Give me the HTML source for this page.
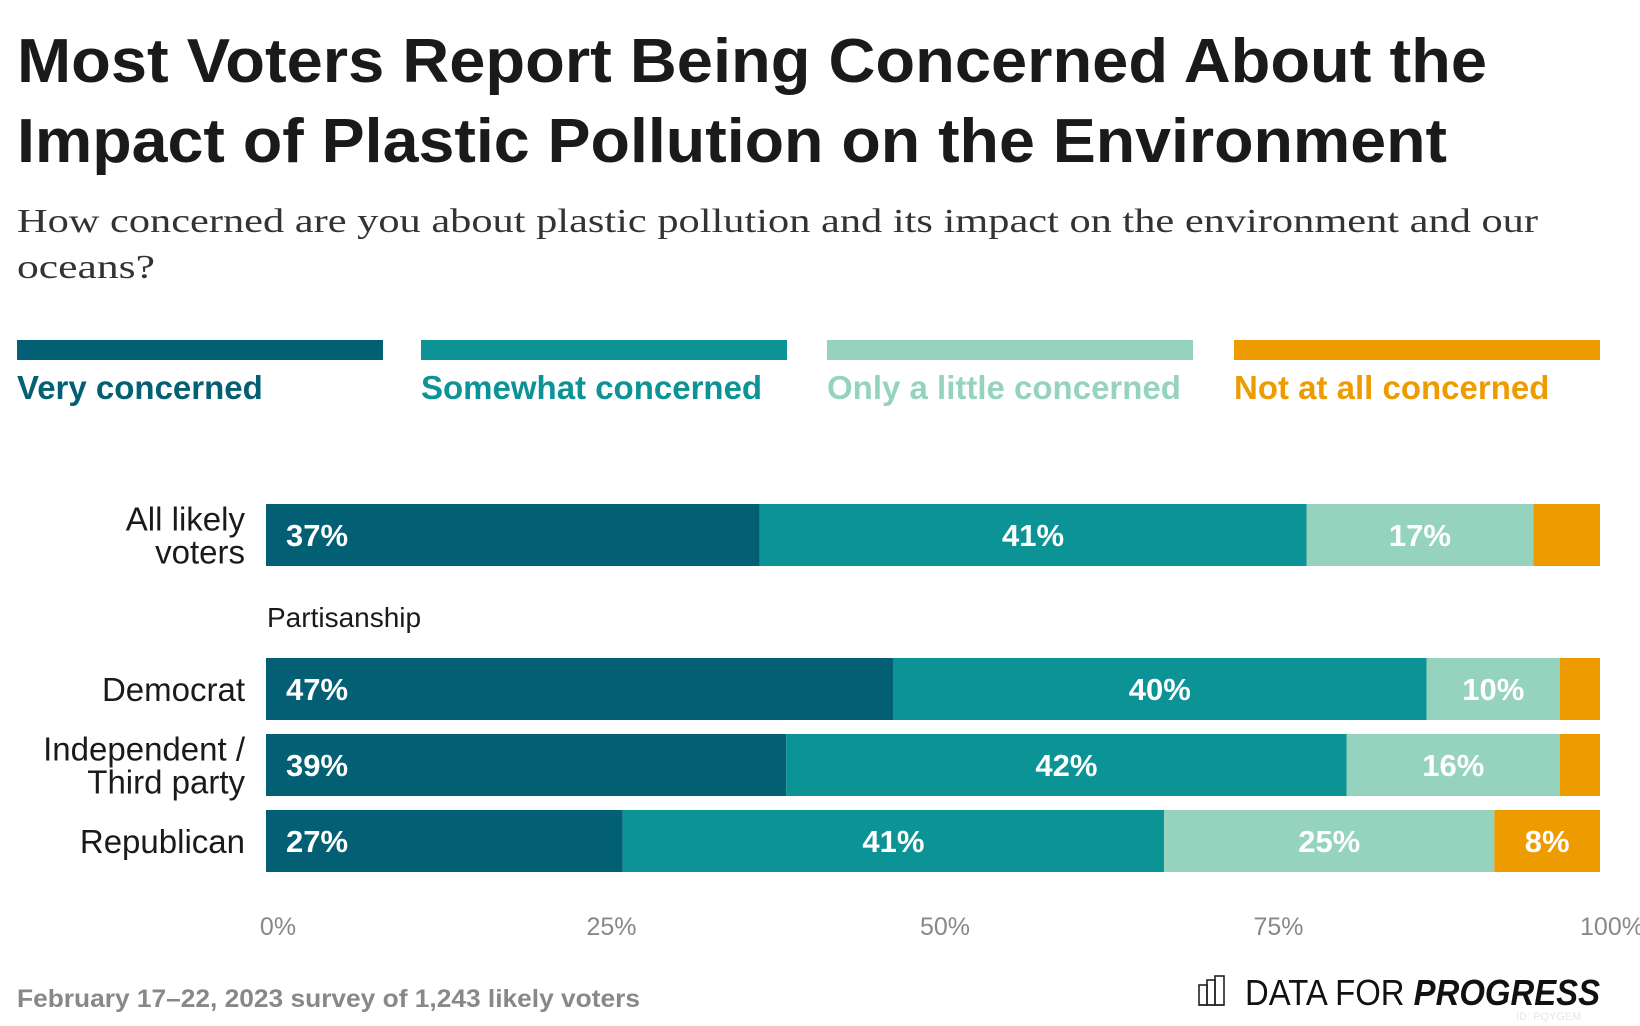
<!DOCTYPE html>
<html><head><meta charset="utf-8"><style>
html,body{margin:0;padding:0;background:#fff;}
svg{display:block;font-family:"Liberation Sans",sans-serif;}
</style></head><body>
<svg id="chart" width="1640" height="1026" viewBox="0 0 1640 1026">
<text x="17" y="82" font-size="62" font-weight="bold" fill="#1a1a1a" textLength="1470" lengthAdjust="spacingAndGlyphs">Most Voters Report Being Concerned About the</text>
<text x="17" y="162" font-size="62" font-weight="bold" fill="#1a1a1a" textLength="1430" lengthAdjust="spacingAndGlyphs">Impact of Plastic Pollution on the Environment</text>
<text x="17" y="232" font-size="34" font-family="Liberation Serif, serif" fill="#333" textLength="1521" lengthAdjust="spacingAndGlyphs">How concerned are you about plastic pollution and its impact on the environment and our</text>
<text x="17" y="278" font-size="34" font-family="Liberation Serif, serif" fill="#333" textLength="138" lengthAdjust="spacingAndGlyphs">oceans?</text>
<g id="legend"></g>
<g id="labels"></g>
<text x="267" y="627" font-size="28" fill="#1a1a1a">Partisanship</text>
<g id="bars"></g>
<g id="axis"></g>
<text x="17" y="1007" font-size="25" font-weight="bold" fill="#888" textLength="623" lengthAdjust="spacingAndGlyphs">February 17–22, 2023 survey of 1,243 likely voters</text>
<g>
<g fill="none" stroke="#222" stroke-width="1.6">
<rect x="1199" y="985" width="8" height="20"/><rect x="1207" y="980" width="8" height="25"/><rect x="1215" y="976" width="9" height="29"/>
<line x1="1199" y1="1005" x2="1224" y2="1005"/>
</g>
<text x="1245" y="1005" font-size="36" fill="#111" textLength="355" lengthAdjust="spacingAndGlyphs">DATA FOR <tspan font-weight="bold" font-style="italic">PROGRESS</tspan></text>
<text x="1516" y="1020" font-size="11" fill="#e6e6e6">ID: PQYGEM</text>
</g>
</svg>
<script>
const seriesNames = ["Very concerned","Somewhat concerned","Only a little concerned","Not at all concerned"];
const seriesColors = ["#035F73","#0B9396","#96D3BE","#EE9B00"];
const legendTextColors = ["#035F73","#0B9396","#96D3BE","#EE9B00"];
const categories = ["All likely voters","Democrat","Independent / Third party","Republican"];
const veryConcerned = [37,47,39,27];
const somewhatConcerned = [41,40,42,41];
const littleConcerned = [17,10,16,25];
const notConcerned = [5,3,3,8];
const tickValues = [0,25,50,75,100];
const tickLabels = ["0%","25%","50%","75%","100%"];

const NS="http://www.w3.org/2000/svg";
const x0=266, x1=1600;
function xScale(p){return x0+(x1-x0)*p/100;}
const rowTops=[504,658,734,810];
const barH=62;
const labelLines=[["All likely","voters"],["Democrat"],["Independent /","Third party"],["Republican"]];
function mk(tag,attrs,parent){const e=document.createElementNS(NS,tag);for(const k in attrs)e.setAttribute(k,attrs[k]);parent.appendChild(e);return e;}

const lg=document.getElementById('legend');
const legX=[17,421,827,1234], legW=366;
seriesNames.forEach((n,i)=>{
  const r=mk('rect',{x:legX[i],y:340,width:legW,height:20,fill:seriesColors[i]},lg);
  
  
  const t=mk('text',{x:legX[i],y:399,'font-size':33,'font-weight':'bold',fill:legendTextColors[i]},lg);
  t.textContent=n;
  
  
});

const lb=document.getElementById('labels');
categories.forEach((c,i)=>{
  const lines=labelLines[i];
  const cy=rowTops[i]+barH/2;
  const n=lines.length;
  lines.forEach((ln,j)=>{
    const y=cy+12+(j-(n-1)/2)*33;
    const t=mk('text',{x:245,y:y,'text-anchor':'end','font-size':33,fill:'#1a1a1a'},lb);
    t.textContent=ln;
    
    
  });
});

const bg=document.getElementById('bars');
const series=[veryConcerned,somewhatConcerned,littleConcerned,notConcerned];
categories.forEach((c,i)=>{
  const vals=series.map(s=>s[i]);
  const tot=vals.reduce((a,b)=>a+b,0);
  let cum=0;
  vals.forEach((v,k)=>{
    const a=xScale(cum/tot*100), b=xScale((cum+v)/tot*100);
    cum+=v;
    const r=mk('rect',{x:a,y:rowTops[i],width:b-a,height:barH,fill:seriesColors[k]},bg);
    
    
    if(v>=6){
      const t=mk('text',{x:k===0?a+20:(a+b)/2,y:rowTops[i]+barH/2+11,'text-anchor':k===0?'start':'middle','font-size':31,'font-weight':'bold',fill:'#fff'},bg);
      t.textContent=v+'%';
      
      
    }
  });
});

const ax=document.getElementById('axis');
tickValues.forEach((v,i)=>{
  const t=mk('text',{x:xScale(v)+12,y:935,'text-anchor':'middle','font-size':25,fill:'#888'},ax);
  t.textContent=tickLabels[i];
  
  
});
</script>
</body></html>
